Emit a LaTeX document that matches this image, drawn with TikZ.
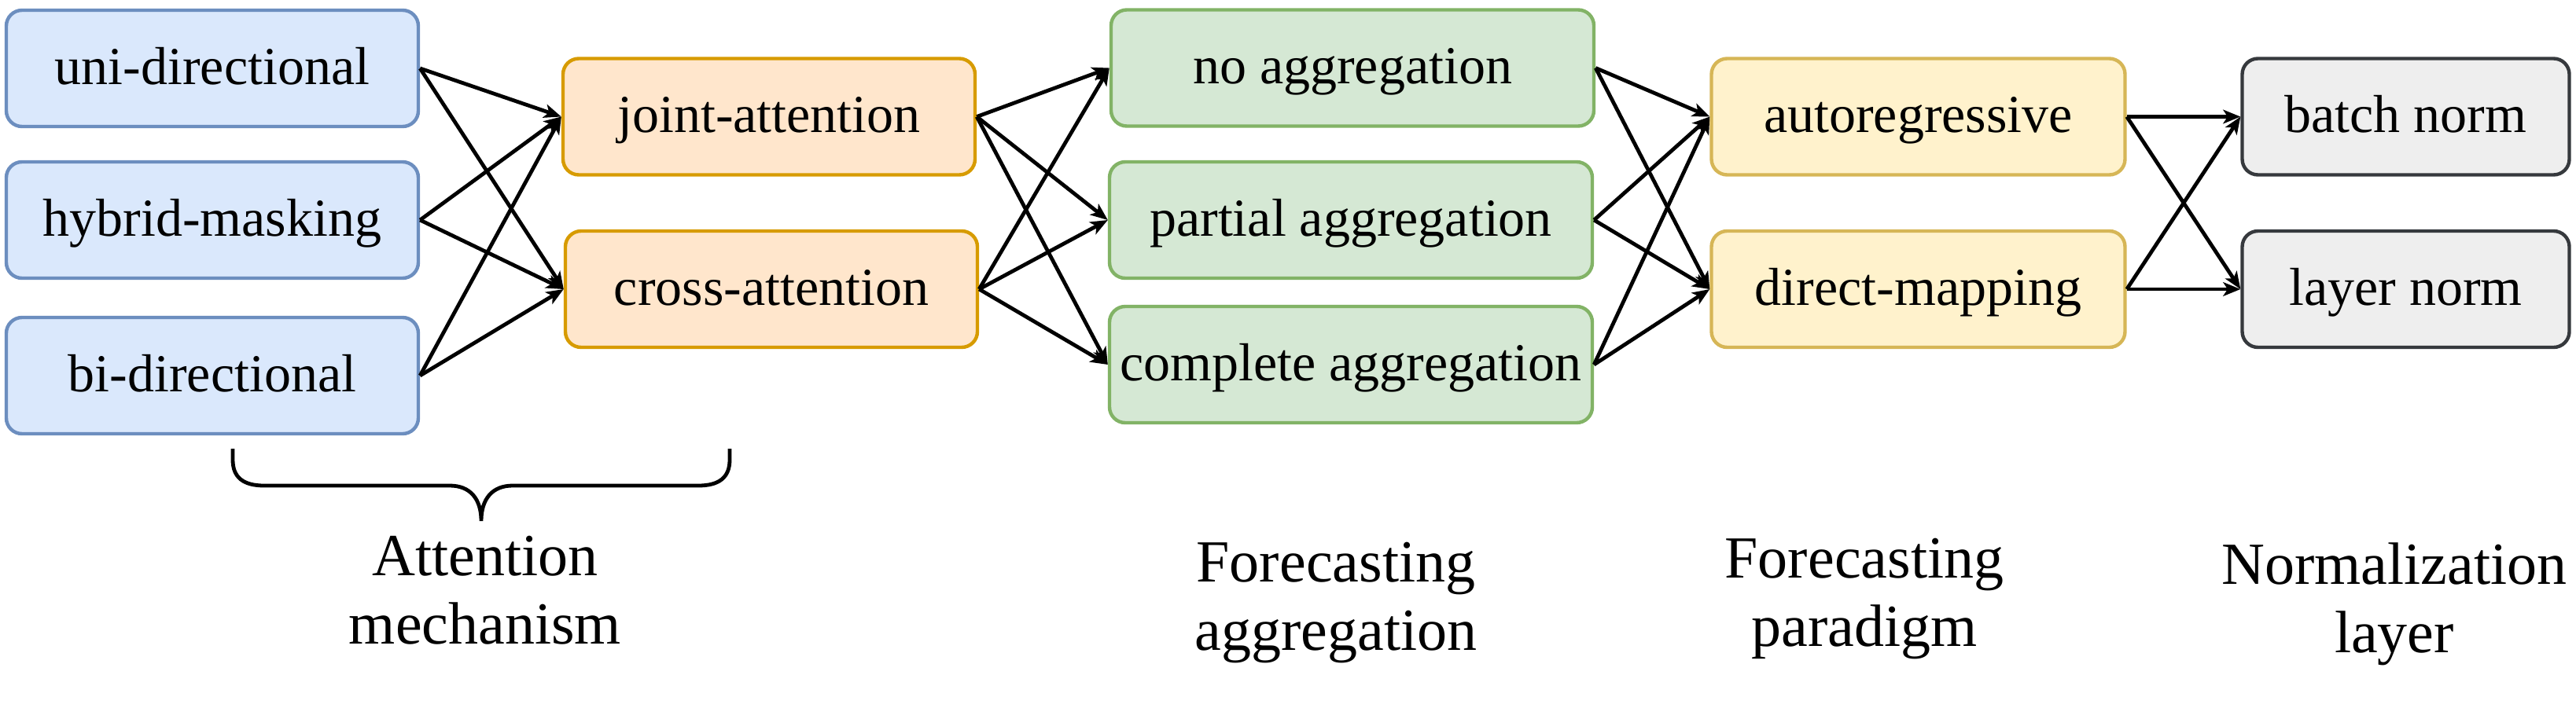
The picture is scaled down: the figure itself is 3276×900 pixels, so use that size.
\documentclass[tikz,border=0pt]{standalone}
\usepackage{fontspec}
\setmainfont{Liberation Serif}
\usetikzlibrary{arrows.meta}
\definecolor{bfill}{HTML}{DAE8FC}\definecolor{bdraw}{HTML}{6C8EBF}
\definecolor{ofill}{HTML}{FFE6CC}\definecolor{odraw}{HTML}{D79B00}
\definecolor{gfill}{HTML}{D5E8D4}\definecolor{gdraw}{HTML}{82B366}
\definecolor{yfill}{HTML}{FFF2CC}\definecolor{ydraw}{HTML}{D6B656}
\definecolor{kfill}{HTML}{EEEEEE}\definecolor{kdraw}{HTML}{36393D}
\begin{document}
\begin{tikzpicture}[x=0.25pt,y=-0.25pt,
  box/.style={draw, rounded corners=5pt, line width=1.1pt, minimum height=37pt,
    inner sep=0pt, align=center, text height=13pt, text depth=3pt,
    font=\fontsize{17}{20}\selectfont},
  bluebox/.style={box, fill=bfill, draw=bdraw, minimum width=131pt},
  orangebox/.style={box, fill=ofill, draw=odraw, minimum width=131pt},
  greenbox/.style={box, fill=gfill, draw=gdraw, minimum width=153.5pt},
  yellowbox/.style={box, fill=yfill, draw=ydraw, minimum width=131.5pt},
  graybox/.style={box, fill=kfill, draw=kdraw, minimum width=104pt},
  conn/.style={-{Stealth[length=5.5pt,width=4.4pt,inset=1.4pt]}, line width=1.2pt},
  grouplabel/.style={align=center, anchor=base, inner sep=0pt,
    font=\fontsize{19}{21.75}\selectfont}
]
\useasboundingbox (0,0) rectangle (3276,900);

\node[bluebox] (uni) at (270,87) {uni-directional};
\node[bluebox] (hyb) at (270,280) {hybrid-masking};
\node[bluebox] (bi) at (270,478) {bi-directional};

\node[orangebox] (joint) at (978,148.5) {joint-attention};
\node[orangebox] (cross) at (981,368) {cross-attention};

\node[greenbox] (noagg) at (1720,86.5) {no aggregation};
\node[greenbox] (part) at (1718,280) {partial aggregation};
\node[greenbox] (comp) at (1718,464) {complete aggregation};

\node[yellowbox] (auto) at (2439.5,148.5) {autoregressive};
\node[yellowbox] (direct) at (2439.5,368) {direct-mapping};

\node[graybox] (batch) at (3059.5,148.5) {batch norm};
\node[graybox] (layer) at (3059.5,368) {layer norm};

\foreach \s in {uni,hyb,bi}{
  \foreach \t in {joint,cross}{
    \draw[conn] (\s.east) -- (\t.west);
  }
}
\foreach \s in {joint,cross}{
  \foreach \t in {noagg,part,comp}{
    \draw[conn] (\s.east) -- (\t.west);
  }
}
\foreach \s in {noagg,part,comp}{
  \foreach \t in {auto,direct}{
    \draw[conn] (\s.east) -- (\t.west);
  }
}
\foreach \s in {auto,direct}{
  \foreach \t in {batch,layer}{
    \draw[conn] (\s.east) -- (\t.west);
  }
}

% curly brace
\coordinate (brL) at (296,571);
\coordinate (brR) at (928,571);
\coordinate (brT) at (612,663);
\draw[line width=1.2pt, line join=round]
  (brL) -- (296,585) .. controls (296,608) and (310,618) .. (336,618)
  -- (572,618) .. controls (598,618) and (612,635) .. (brT)
  (brR) -- (928,585) .. controls (928,608) and (914,618) .. (888,618)
  -- (652,618) .. controls (626,618) and (612,635) .. (brT);

\node[grouplabel] (attn) at (617,819) {Attention\\mechanism};
\node[grouplabel] (fagg) at (1699,827) {Forecasting\\aggregation};
\node[grouplabel] (fpar) at (2371,822) {Forecasting\\paradigm};
\node[grouplabel] (norm) at (3045,830) {Normalization\\layer};
\end{tikzpicture}
\end{document}
